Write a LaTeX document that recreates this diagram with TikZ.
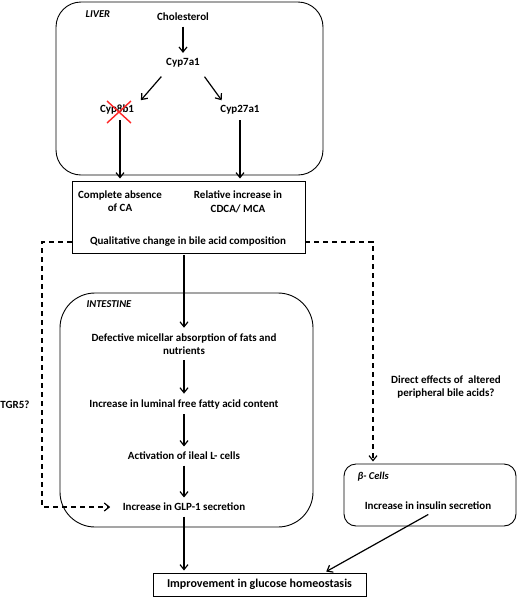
\documentclass[tikz,border=0pt]{standalone}
\usepackage{fontspec}
\setmainfont{Carlito}
\usetikzlibrary{positioning,arrows.meta}

\begin{document}
\begin{tikzpicture}[
    x=1pt,
    y=-1pt,
    ->,
    >={Straight Barb[length=5pt,width=8pt]},
    line width=1.2pt,
    shorten >=2pt,
    shorten <=2pt
]


\tikzstyle{step label}=[
    font=\bfseries\fontsize{11}{13.5}\selectfont,
    align=center,
    inner sep=3pt
]
\tikzstyle{organ}=[
    font=\bfseries\itshape\fontsize{10.5}{12}\selectfont,
    anchor=west,
    inner sep=0pt
]
\tikzstyle{compartment}=[
    draw,
    line width=0.9pt,
    inner sep=0pt
]
\tikzstyle{signal}=[
    dash pattern=on 5pt off 4pt,
    shorten <=0pt
]

\useasboundingbox (0,0) rectangle (520,598);

% compartments
\node[compartment, rounded corners=25pt, minimum width=267, minimum height=173] (liver) at (189.5,88.5) {};
\node[compartment, minimum width=233, minimum height=72] (comp) at (188.5,217) {};
\node[compartment, rounded corners=35pt, minimum width=253, minimum height=234] (intestine) at (186.5,410) {};
\node[compartment, rounded corners=12pt, minimum width=172, minimum height=62] (beta) at (430,495) {};
\node[compartment, minimum width=213, minimum height=23, font=\bfseries\fontsize{12}{14}\selectfont] (improve) at (259.5,584.5) {Improvement in glucose homeostasis};

\node[organ] at (85,14) {LIVER};
\node[organ] at (86,304) {INTESTINE};
\node[organ] at (357,477) {β- Cells};

% liver
\node[step label] (chol) at (183,17) {Cholesterol};
\node[step label] (cyp7) at (183,63) {Cyp7a1};
\node[step label] (cyp8) at (117,110) {Cyp8b1};
\node[step label] (cyp27) at (240,110) {Cyp27a1};

\draw[-, shorten <=0pt, shorten >=0pt, red!85!white, line width=1.4pt] (107,101) -- (131,123);
\draw[-, shorten <=0pt, shorten >=0pt, red!85!white, line width=1.4pt] (131,101) -- (107,123);

% bile acids
\node[step label] (absence) at (120,201) {Complete absence\\of CA};
\node[step label] (relative) at (238,202) {Relative increase in\\CDCA/ MCA};
\node[step label] (qual) at (188,242) {Qualitative change in bile acid composition};

% intestine
\node[step label] (defect) at (184,344) {Defective micellar absorption of fats and\\nutrients};
\node[step label] (luminal) at (184,404) {Increase in luminal free fatty acid content};
\node[step label] (activ) at (184,456) {Activation of ileal L- cells};
\node[step label] (glp) at (184,507) {Increase in GLP-1 secretion};

\node[step label] (insulin) at (428,506) {Increase in insulin secretion};

\node[step label] (tgr) at (15,405) {TGR5?};
\node[step label] (direct) at (446,387) {Direct effects of~ altered\\peripheral bile acids?};

\coordinate (leftbend) at (42,242);
\coordinate (rightbend) at (373,242);


\draw (chol) -- (cyp7);
\draw ([yshift=-4pt]cyp7.south west) -- ([xshift=2pt]cyp8.north east);
\draw ([yshift=-4pt]cyp7.south east) -- ([xshift=6pt]cyp27.north west);
\draw ([xshift=3pt]cyp8.south) -- ([xshift=3pt]cyp8.south |- comp.north);
\draw (cyp27) -- (cyp27 |- comp.north);

\draw (comp.south -| defect) -- (defect);
\draw (defect) -- (luminal);
\draw (luminal) -- (activ);
\draw (activ) -- (glp);
\draw (glp) -- (glp |- improve.north);
\draw ([xshift=2pt]insulin.south) -- ([xshift=65pt]improve.north);

\draw[signal] (qual -| comp.west) -- (leftbend) |- ([xshift=-7pt]glp.west);
\draw[signal] (qual -| comp.east) -- (rightbend) -- (rightbend |- beta.north);

\end{tikzpicture}
\end{document}
